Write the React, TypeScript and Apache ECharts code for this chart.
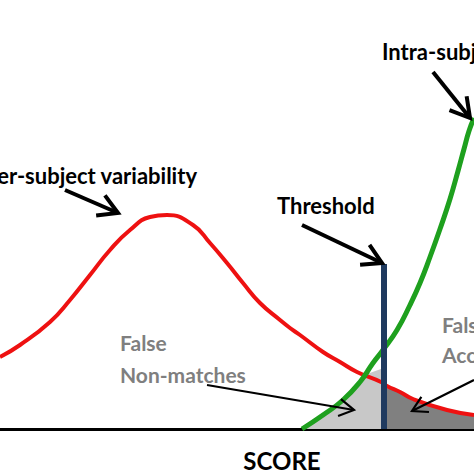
import React, { useEffect, useRef } from "react";
import * as echarts from "echarts";

// Score axis (x) and density height (y)
const redX = [0, 20, 50, 70, 90, 110, 130, 150, 167, 193, 210, 227, 243, 260, 280, 290, 300, 323, 340, 357, 381, 387, 400, 413, 447, 474];
const redY = [72, 84, 107, 129, 154, 179, 199, 212, 214, 204, 186, 166, 146, 126, 109, 101, 94, 77, 67, 57, 47, 43, 37, 30, 19, 14];

const greenX = [302, 323, 343, 360, 373, 383, 397, 410, 420, 430, 440, 450, 458, 464, 469, 474];
const greenY = [0, 14, 29, 47, 66, 79, 99, 124, 146, 172, 200, 230, 258, 280, 298, 311];

// False non-matches (light) and false accepts (dark) shaded areas
const fnmX = [302, 312, 323, 343, 360, 364, 381, 381];
const fnmY = [0, 7, 14, 29, 47, 54, 60, 0];
const faX = [384, 387, 400, 413, 447, 474];
const faY = [45, 43, 37, 30, 19, 14];

const thresholdX = 384;
const thresholdTop = 165;

// Annotation arrows: [startX, startY, tipX, tipY, width]
const arrows = [
  [65, 239, 118, 216, 4],
  [302, 204, 382, 166, 4],
  [433, 357, 470, 311, 4],
  [207, 44, 354, 19, 2.2],
  [474, 49, 412, 18, 2.2],
];

const labels = [
  { text: "Inter-subject variability", x: 197, y: 175, align: "right", color: "#000", size: 22 },
  { text: "Threshold", x: 277, y: 205, align: "left", color: "#000", size: 22 },
  { text: "Intra-subject variability", x: 382, y: 51, align: "left", color: "#000", size: 22 },
  { text: "False", x: 120, y: 342, align: "left", color: "#7f7f7f", size: 21 },
  { text: "Non-matches", x: 120, y: 374, align: "left", color: "#7f7f7f", size: 21 },
  { text: "False", x: 442, y: 324, align: "left", color: "#7f7f7f", size: 21 },
  { text: "Acceptances", x: 442, y: 354, align: "left", color: "#7f7f7f", size: 21 },
  { text: "SCORE", x: 282, y: 460, align: "center", color: "#000", size: 24 },
];

const zip = (xs: number[], ys: number[]) => xs.map((x, i) => [x, ys[i]]);

export default function App() {
  const ref = useRef<HTMLDivElement>(null);
  useEffect(() => {
    if (!ref.current) return;
    const chart = echarts.init(ref.current, undefined, { renderer: "svg" });
    const arrowSeries: any[] = [];
    arrows.forEach(([sx, sy, tx, ty, w]) => {
      const ang = Math.atan2(sy - ty, sx - tx);
      const len = w > 3 ? 22 : 17;
      const spread = (30 * Math.PI) / 180;
      const w1 = [tx + len * Math.cos(ang + spread), ty + len * Math.sin(ang + spread)];
      const w2 = [tx + len * Math.cos(ang - spread), ty + len * Math.sin(ang - spread)];
      arrowSeries.push({
        type: "line",
        data: [[sx, sy], [tx, ty]],
        symbol: "none",
        lineStyle: { color: "#000", width: w },
        z: 10,
        silent: true,
      });
      arrowSeries.push({
        type: "line",
        data: [w1, [tx, ty], w2],
        symbol: "none",
        lineStyle: { color: "#000", width: w, join: "miter" },
        z: 10,
        silent: true,
      });
    });
    chart.setOption({
      animation: false,
      backgroundColor: "#fff",
      grid: { left: 0, right: 0, top: 0, bottom: 45 },
      xAxis: {
        type: "value",
        min: 0,
        max: 474,
        axisLine: { show: true, lineStyle: { color: "#000", width: 3 } },
        axisTick: { show: false },
        axisLabel: { show: false },
        splitLine: { show: false },
      },
      yAxis: { type: "value", min: 0, max: 429, show: false },
      series: [
        {
          type: "line",
          data: zip(fnmX, fnmY),
          symbol: "none",
          lineStyle: { width: 0 },
          areaStyle: { color: "#c8c8c8", opacity: 1 },
          z: 1,
        },
        {
          type: "line",
          data: zip(faX, faY),
          symbol: "none",
          smooth: true,
          lineStyle: { width: 0 },
          areaStyle: { color: "#808080", opacity: 1 },
          z: 1,
        },
        {
          type: "line",
          data: zip(redX, redY),
          symbol: "none",
          smooth: true,
          lineStyle: { color: "#ee1111", width: 4 },
          z: 3,
        },
        {
          type: "line",
          data: zip(greenX, greenY),
          symbol: "none",
          smooth: true,
          lineStyle: { color: "#1ea01e", width: 5 },
          z: 4,
        },
        {
          type: "line",
          data: [[thresholdX, 0], [thresholdX, thresholdTop]],
          symbol: "none",
          lineStyle: { color: "#1f3a5f", width: 6, cap: "butt" },
          z: 5,
        },
        ...arrowSeries,
      ],
      graphic: labels.map((l) => ({
        type: "text",
        x: l.x,
        y: l.y,
        z: 20,
        style: {
          text: l.text,
          fill: l.color,
          font: `bold ${l.size}px Lato`,
          align: l.align,
          verticalAlign: "middle",
        },
      })),
    });
    return () => chart.dispose();
  }, []);
  return (
    <div
      ref={ref}
      style={{ position: "fixed", left: 0, top: 0, width: 474, height: 474, background: "#fff" }}
    />
  );
}
